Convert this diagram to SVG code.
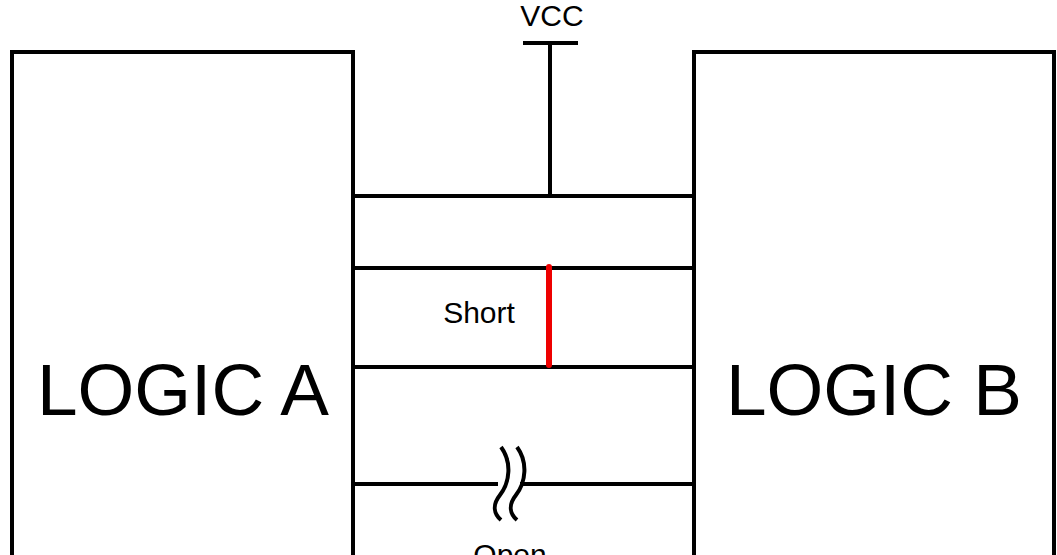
<svg xmlns="http://www.w3.org/2000/svg" width="1057" height="555" viewBox="0 0 1057 555">
<style>
.w{stroke:#000;stroke-width:4;fill:none}
.t{font-family:"Liberation Sans",Arial,sans-serif;fill:#000}
</style>
<rect width="1057" height="555" fill="#fff"/>
<g id="logicA"><path class="w" d="M12,560 V52 H353 V560"/><text class="t" x="183" y="415" font-size="73" text-anchor="middle">LOGIC A</text></g>
<g id="logicB"><path class="w" d="M694,560 V52 H1054 V560"/><text class="t" x="874" y="415" font-size="73" text-anchor="middle">LOGIC B</text></g>
<g id="vcc"><path class="w" d="M523,43 H578 M550,43 V196"/><text class="t" x="552" y="26" font-size="30" text-anchor="middle">VCC</text></g>
<g id="connectors">
<path class="w" d="M353,196 H694 M353,268 H694 M353,367 H694 M353,484 H498 M520,484 H694"/>
<path d="M549,267 V365" stroke="#e00" stroke-width="6" stroke-linecap="round"/>
<path class="w" stroke-width="3" d="M501,447 C512,462 510,482 500,495 C492,505 494,514 501,520 M517,447 C528,462 526,482 516,495 C508,505 510,514 517,520"/>
</g>
<text class="t" x="479" y="323" font-size="30" text-anchor="middle">Short</text>
<text class="t" x="510" y="565" font-size="30" text-anchor="middle">Open</text>
</svg>
